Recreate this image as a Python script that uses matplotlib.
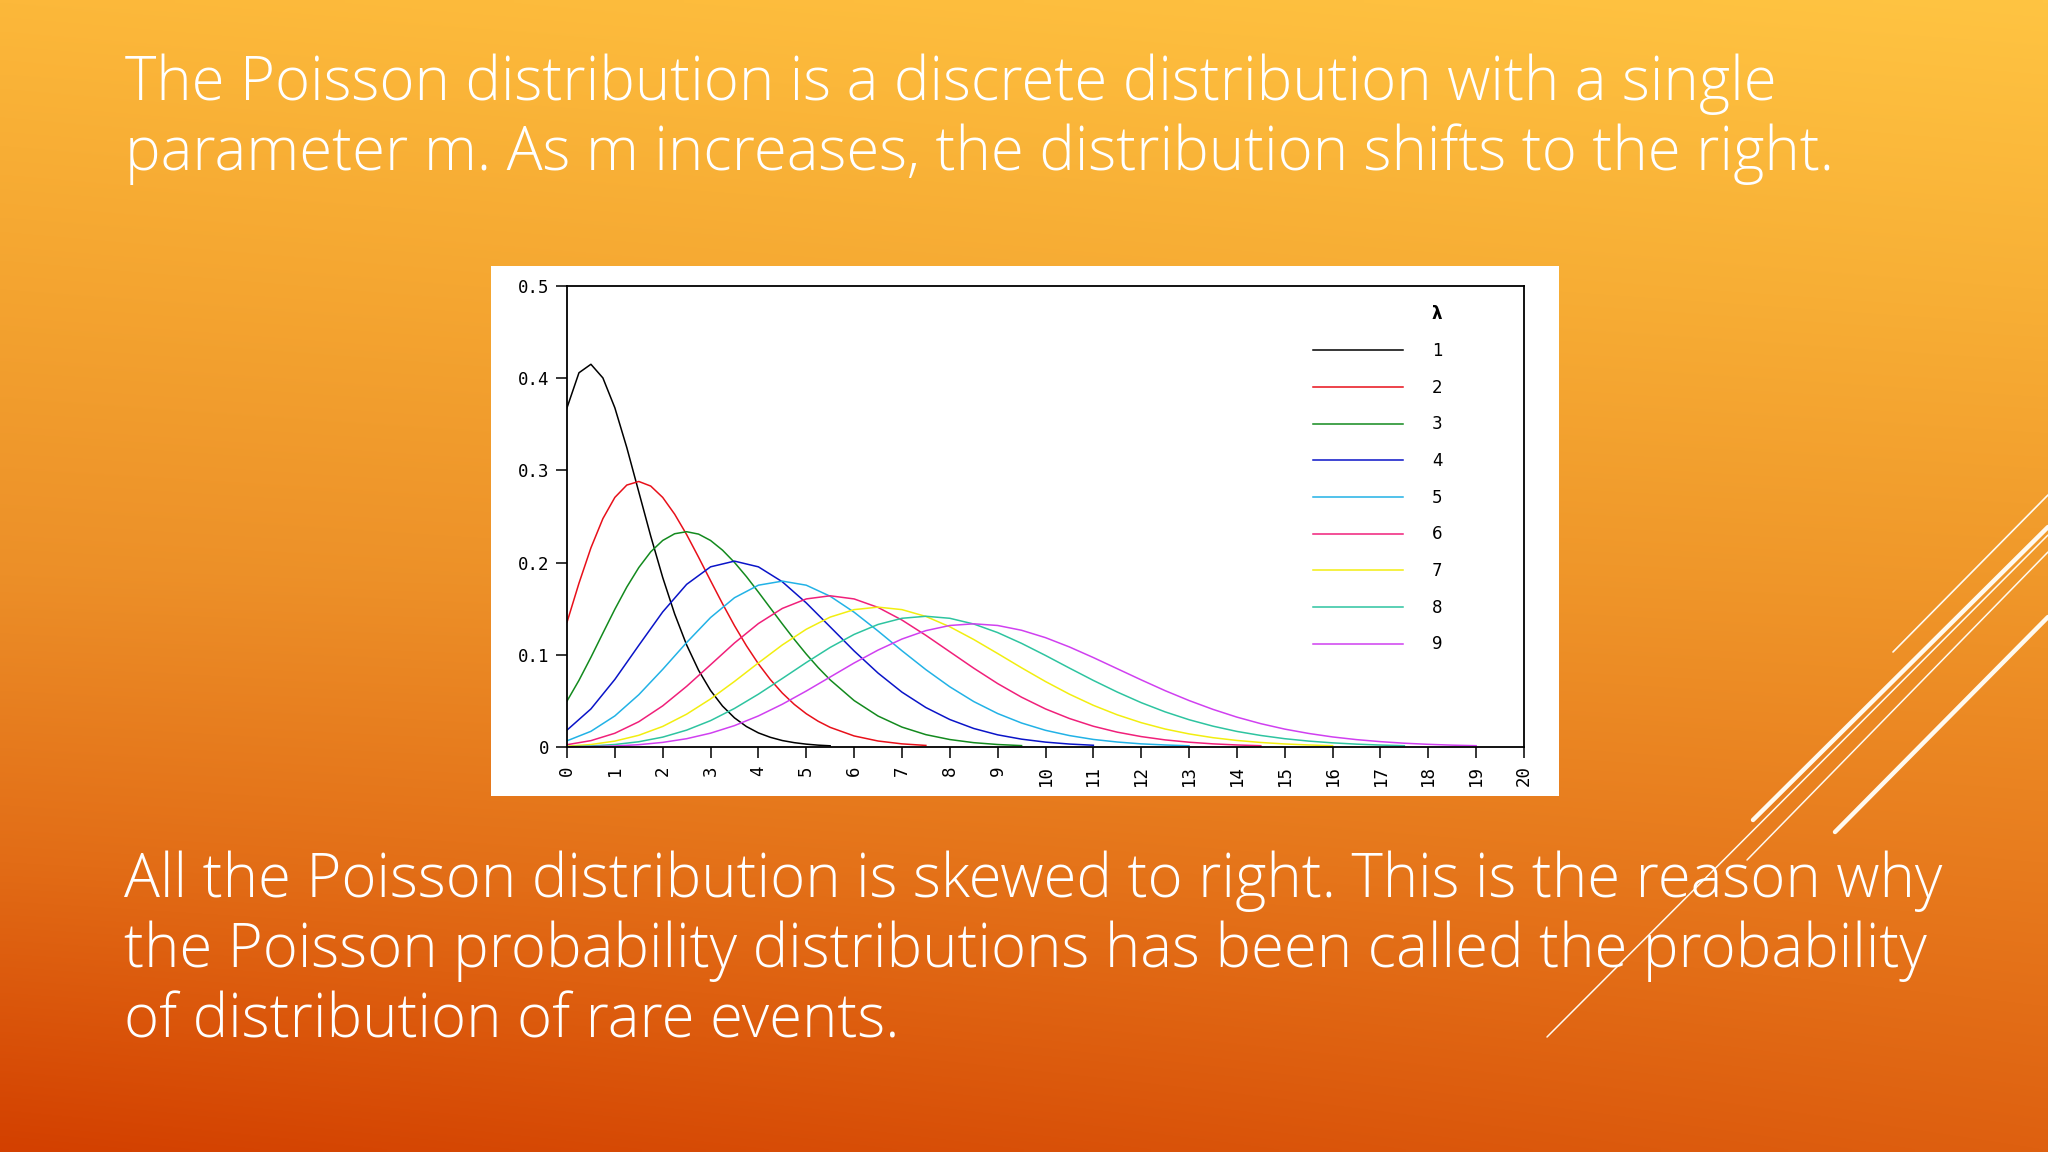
import numpy as np
import matplotlib
matplotlib.use("Agg")
import matplotlib.pyplot as plt
from matplotlib.lines import Line2D
from matplotlib.patches import Rectangle

# ---------------- data ----------------
x_half = [0, 0.5, 1, 1.5, 2, 2.5, 3, 3.5, 4, 4.5, 5, 5.5, 6, 6.5, 7, 7.5, 8, 8.5, 9, 9.5,
          10, 10.5, 11, 11.5, 12, 12.5, 13, 13.5, 14, 14.5, 15, 15.5, 16, 16.5, 17, 17.5,
          18, 18.5, 19, 19.5, 20]
x_fine = [0, 0.25, 0.5, 0.75, 1, 1.25, 1.5, 1.75, 2, 2.25, 2.5, 2.75, 3, 3.25, 3.5, 3.75,
          4, 4.25, 4.5, 4.75, 5, 5.25, 5.5, 6, 6.5, 7, 7.5, 8, 8.5, 9, 9.5]

lam1 = [0.3679, 0.4059, 0.4151, 0.4003, 0.3679, 0.3247, 0.2767, 0.2287, 0.1839, 0.1443,
        0.1107, 0.0832, 0.0613, 0.0444, 0.0316, 0.0222, 0.0153, 0.0105, 0.0070, 0.0047,
        0.0031, 0.0020, 0.0013]
lam2 = [0.1353, 0.1776, 0.2160, 0.2477, 0.2707, 0.2841, 0.2880, 0.2830, 0.2707, 0.2525,
        0.2304, 0.2058, 0.1804, 0.1554, 0.1316, 0.1098, 0.0902, 0.0731, 0.0585, 0.0462,
        0.0361, 0.0279, 0.0213, 0.0120, 0.0065, 0.0034, 0.0017]
lam3 = [0.0498, 0.0723, 0.0973, 0.1235, 0.1494, 0.1735, 0.1946, 0.2117, 0.2240, 0.2313,
        0.2335, 0.2309, 0.2240, 0.2135, 0.2002, 0.1848, 0.1680, 0.1507, 0.1335, 0.1167,
        0.1008, 0.0861, 0.0728, 0.0504, 0.0336, 0.0216, 0.0134, 0.0081, 0.0047, 0.0027,
        0.0015]
lam4 = [0.0183, 0.0413, 0.0733, 0.1102, 0.1465, 0.1764, 0.1954, 0.2016, 0.1954, 0.1792,
        0.1563, 0.1303, 0.1042, 0.0802, 0.0595, 0.0428, 0.0298, 0.0201, 0.0132, 0.0085,
        0.0053, 0.0032, 0.0019]
lam5 = [0.0067, 0.0170, 0.0337, 0.0567, 0.0842, 0.1133, 0.1404, 0.1619, 0.1755, 0.1799,
        0.1755, 0.1635, 0.1462, 0.1258, 0.1044, 0.0839, 0.0653, 0.0493, 0.0363, 0.0260,
        0.0181, 0.0124, 0.0082, 0.0054, 0.0034, 0.0022, 0.0013]
lam6 = [0.0025, 0.0069, 0.0149, 0.0274, 0.0446, 0.0658, 0.0892, 0.1128, 0.1339, 0.1503,
        0.1606, 0.1640, 0.1606, 0.1514, 0.1377, 0.1211, 0.1033, 0.0855, 0.0688, 0.0540,
        0.0413, 0.0309, 0.0225, 0.0161, 0.0113, 0.0077, 0.0052, 0.0034, 0.0022, 0.0014]
lam7 = [0.0009, 0.0027, 0.0064, 0.0127, 0.0223, 0.0356, 0.0521, 0.0711, 0.0912, 0.1107,
        0.1277, 0.1409, 0.1490, 0.1517, 0.1490, 0.1416, 0.1304, 0.1166, 0.1014, 0.0859,
        0.0710, 0.0573, 0.0452, 0.0349, 0.0264, 0.0195, 0.0142, 0.0101, 0.0071, 0.0049,
        0.0033, 0.0022, 0.0014]
lam8 = [0.0003, 0.0011, 0.0027, 0.0057, 0.0107, 0.0183, 0.0286, 0.0418, 0.0573, 0.0743,
        0.0916, 0.1080, 0.1221, 0.1329, 0.1396, 0.1418, 0.1396, 0.1334, 0.1241, 0.1124,
        0.0993, 0.0856, 0.0722, 0.0596, 0.0481, 0.0381, 0.0296, 0.0226, 0.0169, 0.0125,
        0.0090, 0.0064, 0.0045, 0.0031, 0.0021, 0.0014]
lam9 = [0.0001, 0.0004, 0.0011, 0.0025, 0.0050, 0.0090, 0.0150, 0.0232, 0.0337, 0.0464,
        0.0607, 0.0759, 0.0911, 0.1051, 0.1171, 0.1262, 0.1318, 0.1336, 0.1318, 0.1266,
        0.1186, 0.1085, 0.0970, 0.0849, 0.0728, 0.0611, 0.0504, 0.0408, 0.0324, 0.0253,
        0.0194, 0.0147, 0.0109, 0.0080, 0.0058, 0.0041, 0.0029, 0.0020, 0.0014]

series_labels = ["1", "2", "3", "4", "5", "6", "7", "8", "9"]
series_values = [lam1, lam2, lam3, lam4, lam5, lam6, lam7, lam8, lam9]
series_x = [x_fine, x_fine, x_fine, x_half, x_half, x_half, x_half, x_half, x_half]

x_ticks = [0, 1, 2, 3, 4, 5, 6, 7, 8, 9, 10, 11, 12, 13, 14, 15, 16, 17, 18, 19, 20]
x_ticklabels = ["0", "1", "2", "3", "4", "5", "6", "7", "8", "9", "10", "11", "12", "13",
                "14", "15", "16", "17", "18", "19", "20"]
y_ticks = [0, 0.1, 0.2, 0.3, 0.4, 0.5]
y_ticklabels = ["0", "0.1", "0.2", "0.3", "0.4", "0.5"]

title_lines = ["The Poisson distribution is a discrete distribution with a single",
               "parameter m. As m increases, the distribution shifts to the right."]
body_lines = ["All the Poisson distribution is skewed to right. This is the reason why",
              "the Poisson probability distributions has been called the probability",
              "of distribution of rare events."]

# ---------------- styles ----------------
line_colors = ["#000000", "#e8101a", "#138a1e", "#0a14c8", "#22b2e6",
               "#f0207a", "#f2ee10", "#2ec4a0", "#d040f0"]

W, H = 2048, 1152
fig = plt.figure(figsize=(W / 100, H / 100), dpi=100)

# background gradient
bg = fig.add_axes([0, 0, 1, 1], zorder=-10)
bg.set_axis_off()
stops_y = np.array([0.0, 0.25, 0.5, 0.75, 1.0])
left_c = np.array([[252, 184, 58], [244, 164, 48], [236, 143, 40], [226, 108, 22], [211, 64, 0]]) / 255
right_c = np.array([[255, 196, 66], [248, 176, 54], [240, 152, 42], [232, 124, 30], [222, 96, 16]]) / 255
gy = np.linspace(0, 1, 200)
gx = np.linspace(0, 1, 200)
L = np.stack([np.interp(gy, stops_y, left_c[:, k]) for k in range(3)], axis=1)
R = np.stack([np.interp(gy, stops_y, right_c[:, k]) for k in range(3)], axis=1)
img = L[:, None, :] * (1 - gx[None, :, None]) + R[:, None, :] * gx[None, :, None]
bg.imshow(img, extent=[0, 1, 0, 1], aspect="auto", origin="upper", interpolation="bilinear")
bg.set_xlim(0, 1)
bg.set_ylim(0, 1)


def fx(px):
    return px / W


def fy(py):
    return 1 - py / H


# decorative lines on the right
deco = [((1893, 652), (2048, 495), 1.2),
        ((1753, 820), (2048, 527), 3.2),
        ((1547, 1037), (2048, 535), 1.1),
        ((1747, 860), (2048, 552), 1.1),
        ((1835, 832), (2048, 617), 3.2)]
for (x0, y0), (x1, y1), lw in deco:
    fig.add_artist(Line2D([fx(x0), fx(x1)], [fy(y0), fy(y1)], transform=fig.transFigure,
                          color="#fffaf0", lw=lw, solid_capstyle="round", zorder=5))

# white box behind the chart
fig.add_artist(Rectangle((fx(491), fy(796)), fx(1559) - fx(491), fy(266) - fy(796),
                         transform=fig.transFigure, facecolor="white", edgecolor="none", zorder=1))

# chart
ax = fig.add_axes([fx(567), fy(747), fx(1524) - fx(567), fy(286) - fy(747)], zorder=2)
ax.set_facecolor("white")
handles = []
for xs, vals, col, lab in zip(series_x, series_values, line_colors, series_labels):
    h, = ax.plot(xs[:len(vals)], vals, color=col, lw=1.1, label=lab)
    handles.append(h)
ax.set_xlim(0, 20)
ax.set_ylim(0, 0.5)
ax.set_xticks(x_ticks)
ax.set_xticklabels(x_ticklabels, rotation=90, fontsize=12.5, family="DejaVu Sans Mono")
ax.set_yticks(y_ticks)
ax.set_yticklabels(y_ticklabels, fontsize=12.5, family="DejaVu Sans Mono")
ax.tick_params(axis="both", direction="out", length=8, width=1.1, color="black", pad=5)
for sp in ax.spines.values():
    sp.set_linewidth(1.3)
    sp.set_color("black")

leg = ax.legend(handles, series_labels, loc="upper left", bbox_to_anchor=(0.78, 0.958),
                frameon=False, handlelength=5.4, handletextpad=1.7, labelspacing=1.12,
                title="λ", title_fontproperties={"weight": "bold", "size": 12},
                fontsize=12, borderpad=0, borderaxespad=0)
leg._legend_box.align = "right"

# slide texts
text_kw = dict(color="white", family=["Open Sans", "DejaVu Sans"], weight="light",
               ha="left", va="baseline", zorder=6)
title_y = [100, 170]
body_y = [897, 967, 1037]
texts = []
for s, yy in zip(title_lines, title_y):
    texts.append(fig.text(fx(125), fy(yy), s, fontsize=40, **text_kw))
for s, yy in zip(body_lines, body_y):
    texts.append(fig.text(fx(124), fy(yy), s, fontsize=40, **text_kw))

fig.canvas.draw()
r = fig.canvas.get_renderer()
w_title = texts[0].get_window_extent(r).width
w_body = texts[2].get_window_extent(r).width
scale = 0.5 * (1640 / w_title + 1818 / w_body)
for t in texts:
    t.set_fontsize(40 * scale)

fig.savefig("out.png", dpi=100)
